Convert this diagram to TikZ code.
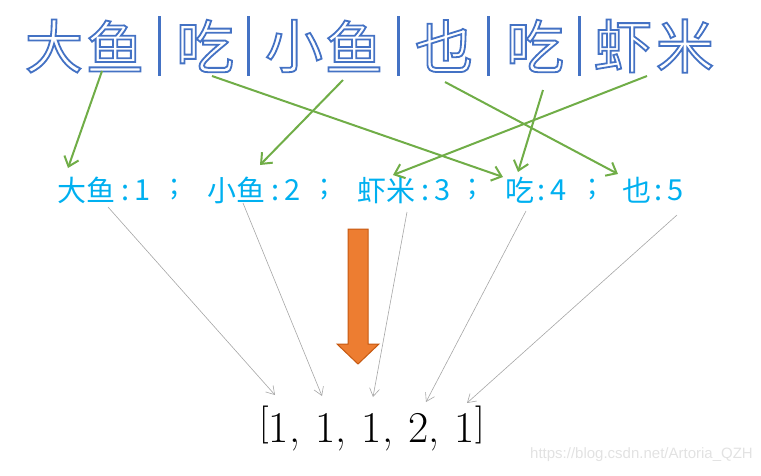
\documentclass[tikz,border=0pt]{standalone}
\usepackage{fontspec}
\newfontfamily\cjk{Noto Sans CJK SC}
\newfontfamily\wmfont{Liberation Sans}
\usetikzlibrary{arrows.meta,calc}
\definecolor{topblue}{HTML}{4472C4}
\definecolor{midblue}{HTML}{00B0F0}
\definecolor{grn}{HTML}{70AD47}
\definecolor{orng}{HTML}{ED7D31}
\definecolor{orngdk}{HTML}{C65911}
\definecolor{wmgray}{HTML}{E2E2E2}
\newcommand\outlinetxt[1]{\special{pdf:code q 2 Tr 1.8 w 0.267 0.447 0.769 RG 1 1 1 rg}#1\special{pdf:code Q}}
\tikzset{
  topch/.style={font=\fontsize{58}{58}\selectfont\cjk, inner sep=0pt},
  topbar/.style={draw=topblue, line width=3pt},
  midw/.style={font=\fontsize{29}{29}\selectfont\cjk, text=midblue, inner sep=0pt},
  midc/.style={midw, anchor=west},
  garrow/.style={draw=grn, line width=2pt, -{Straight Barb[length=9pt,width=15pt]}},
  gyarrow/.style={draw=black!35, line width=0.6pt, -{Straight Barb[length=8pt,width=10pt]}},
  bigarrow/.style={fill=orng, draw=orngdk, line width=1pt},
}
\begin{document}
\begin{tikzpicture}[x=1pt,y=-1pt]
\useasboundingbox (0,0) rectangle (761,475);
% top row
\node[topch] (t1) at (54,46) {\outlinetxt{大}};
\node[topch] (t2) at (115,46) {\outlinetxt{鱼}};
\node[topch] (t3) at (205,46) {\outlinetxt{吃}};
\node[topch] (t4) at (294,46) {\outlinetxt{小}};
\node[topch] (t5) at (354,46) {\outlinetxt{鱼}};
\node[topch] (t6) at (444,46) {\outlinetxt{也}};
\node[topch] (t7) at (535,46) {\outlinetxt{吃}};
\node[topch] (t8) at (623,46) {\outlinetxt{虾}};
\node[topch] (t9) at (685,46) {\outlinetxt{米}};
\foreach \bx in {159,248,398,488,579}{\draw[topbar] (\bx,16) -- (\bx,76);}
% middle row
\node[midw] (m1) at (86,190) {大鱼};
\node[midc] (c1) at (121,190) {:\,1};
\node[midw] (s1) at (175,190) {;};
\node[midw] (m2) at (236,190) {小鱼};
\node[midc] (c2) at (271,190) {:\,2};
\node[midw] (s2) at (325,190) {;};
\node[midw] (m3) at (386,190) {虾米};
\node[midc] (c3) at (421,190) {:\,3};
\node[midw] (s3) at (473,190) {;};
\node[midw] (m4) at (520,190) {吃};
\node[midc] (c4) at (537,190) {:\,4};
\node[midw] (s4) at (593,190) {;};
\node[midw] (m5) at (637,190) {也};
\node[midc] (c5) at (654,190) {:\,5};
% bottom
\node[inner sep=0pt, anchor=base, font=\fontsize{44}{44}\selectfont] (b) at (372,442)
  {{\fontsize{38}{38}\selectfont\raisebox{8pt}{[}}1,\kern2pt{} 1,\kern2pt{} 1,\kern2pt{} 2,\kern2pt{} 1{\fontsize{38}{38}\selectfont\raisebox{8pt}{]}}};
% green arrows
\draw[garrow] ($(t2.center)+(-13,25)$) -- ($(m1.center)+(-18,-22)$);
\draw[garrow] ($(t3.center)+(7,30)$) -- ($(m4.center)+(-17,-13)$);
\draw[garrow] ($(t5.center)+(-11,34)$) -- ($(m2.center)+(24,-25)$);
\draw[garrow] ($(t6.center)+(1,36)$) -- ($(m5.center)+(-19,-16)$);
\draw[garrow] ($(t7.center)+(8,44)$) -- ($(m4.center)+(-2,-18)$);
\draw[garrow] ($(t8.center)+(24,30)$) -- ($(m3.center)+(7,-15)$);
% gray arrows
\draw[gyarrow] ($(m1.center)+(22,17)$) -- (275,395);
\draw[gyarrow] ($(m2.center)+(7,13)$) -- (322,396);
\draw[gyarrow] ($(m3.center)+(21,22)$) -- (373,397);
\draw[gyarrow] ($(m4.center)+(6,21)$) -- (426,402);
\draw[gyarrow] ($(m5.center)+(40,25)$) -- (467,403);
% orange arrow
\draw[bigarrow] (348,229) -- (368,229) -- (368,344) -- (379,344) -- (358,364) -- (337,344) -- (348,344) -- cycle;
% watermark
\node[anchor=east, inner sep=0pt, text=wmgray, font=\fontsize{15}{15}\selectfont\wmfont] (wm) at (753,455) {https://blog.csdn.net/Artoria\_QZH};
\end{tikzpicture}
\end{document}
